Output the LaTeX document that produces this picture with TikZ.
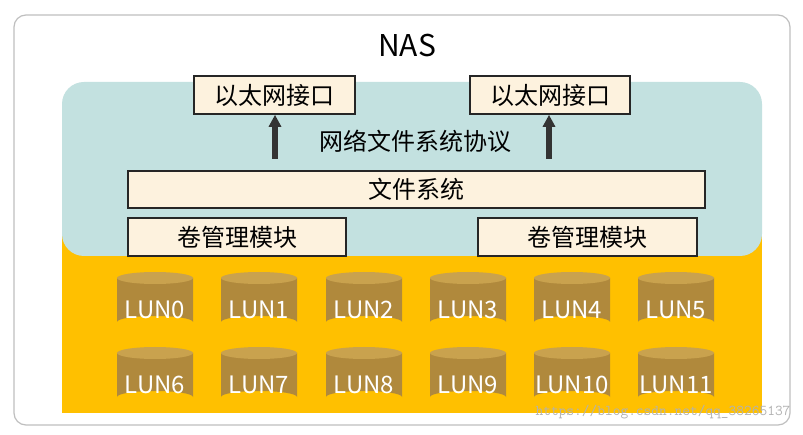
\documentclass[tikz,border=0pt]{standalone}
\usepackage{fontspec}
\setmainfont{Noto Sans CJK SC}
\usetikzlibrary{arrows.meta}
\definecolor{teal1}{HTML}{C3E1E0}
\definecolor{yel}{HTML}{FFC000}
\definecolor{boxf}{HTML}{FDF2DE}
\definecolor{cylb}{HTML}{B0893C}
\definecolor{cylt}{HTML}{C9A24E}
\tikzset{
 lbl/.style={draw=black!85,line width=1.6pt,fill=boxf,inner sep=0pt,font=\fontsize{24}{24}\selectfont},
 uparrow/.style={-{Triangle[length=12pt,width=12pt]},line width=6pt,black!80},
}
\newcommand{\mycyl}[3]{%
 \fill[cylb] (#1-38,#2+8) -- (#1-38,#2+52) arc[start angle=180,end angle=360,x radius=38,y radius=6] -- (#1+38,#2+8) -- cycle;
 \fill[cylt] (#1,#2+8) ellipse[x radius=38,y radius=6];
 \node[text=white,font=\fontsize{24}{24}\selectfont] (L#3) at (#1,#2+40) {LUN#3};}
\begin{document}
\begin{tikzpicture}[x=1pt,y=-1pt]
\useasboundingbox (0,0) rectangle (803,435);
\fill[white] (0,0) rectangle (803,435);
\draw[black!25,line width=1.2pt,rounded corners=12] (14,15) rectangle (790,425);
\fill[yel] (62,200) rectangle (762,413);
\fill[teal1,rounded corners=22] (62,82) rectangle (762,256);
\node[font=\fontsize{30}{30}\selectfont] (nas) at (407,46) {NAS};
\node[lbl,minimum width=161,minimum height=38] (e1) at (274.5,95) {以太网接口};
\node[lbl,minimum width=160,minimum height=38] (e2) at (550,95) {以太网接口};
\node[lbl,minimum width=577,minimum height=37] (fs) at (416.5,189.5) {文件系统};
\node[lbl,minimum width=218,minimum height=38] (v1) at (237,237) {卷管理模块};
\node[lbl,minimum width=219,minimum height=38] (v2) at (587.5,237) {卷管理模块};
\node[font=\fontsize{24}{24}\selectfont] (nfs) at (415,141) {网络文件系统协议};
\coordinate (a1) at (275,159);
\coordinate (a2) at (549,159);
\draw[uparrow] (a1) -- (e1.south -| a1);
\draw[uparrow] (a2) -- (e2.south -| a2);
\foreach \x [count=\i from 0] in {155,259,364,468,572,676} {
 \mycyl{\x}{270}{\i}
 \pgfmathtruncatemacro{\j}{\i+6}
 \mycyl{\x}{345}{\j}
}
\node[text=black!30,font=\fontsize{15}{15}\selectfont\ttfamily,anchor=east] (wm) at (794,412) {https://blog.csdn.net/qq\_38265137};
\end{tikzpicture}
\end{document}
